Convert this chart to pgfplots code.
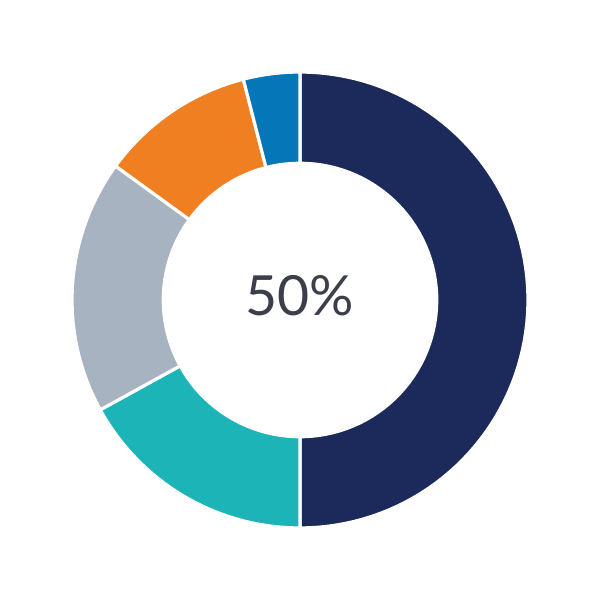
\documentclass[border=0pt]{standalone}
\usepackage{pgfplots}
\pgfplotsset{compat=1.18}
\usepackage{fontspec}
\setmainfont{Lato}
\definecolor{cNavy}{HTML}{1B2A5A}
\definecolor{cTeal}{HTML}{1DB4B8}
\definecolor{cGray}{HTML}{A8B3C2}
\definecolor{cOrange}{HTML}{F07F22}
\definecolor{cBlue}{HTML}{0576B8}
\definecolor{cText}{HTML}{3B3F4A}
\begin{document}
\begin{tikzpicture}
\begin{axis}[
    width=8cm, height=8cm,
    scale only axis,
    axis equal image,
    xmin=-1.316, xmax=1.316,
    ymin=-1.316, ymax=1.316,
    hide axis,
    clip=false,
]
% keep the whole square as the picture
\path (axis cs:-1.316,-1.316) rectangle (axis cs:1.316,1.316);
% slices in percent, clockwise from the top: 50, 17, 18, 11, 4
\addplot[fill=cNavy, draw=white, line width=1.2pt, domain=0:50, samples=80, variable=\t]
    ({sin(3.6*\t)}, {cos(3.6*\t)}) -- (axis cs:0,0) -- cycle;
\addplot[fill=cTeal, draw=white, line width=1.2pt, domain=50:67, samples=40, variable=\t]
    ({sin(3.6*\t)}, {cos(3.6*\t)}) -- (axis cs:0,0) -- cycle;
\addplot[fill=cGray, draw=white, line width=1.2pt, domain=67:85, samples=40, variable=\t]
    ({sin(3.6*\t)}, {cos(3.6*\t)}) -- (axis cs:0,0) -- cycle;
\addplot[fill=cOrange, draw=white, line width=1.2pt, domain=85:96, samples=30, variable=\t]
    ({sin(3.6*\t)}, {cos(3.6*\t)}) -- (axis cs:0,0) -- cycle;
\addplot[fill=cBlue, draw=white, line width=1.2pt, domain=96:100, samples=15, variable=\t]
    ({sin(3.6*\t)}, {cos(3.6*\t)}) -- (axis cs:0,0) -- cycle;
% hole
\addplot[fill=white, draw=white, line width=1.2pt, domain=0:100, samples=120, variable=\t]
    ({0.6*sin(3.6*\t)}, {0.6*cos(3.6*\t)}) -- cycle;
\node[text=cText, font=\fontsize{21}{25}\selectfont] at (axis cs:0,0.02) {50\%};
\end{axis}
\end{tikzpicture}
\end{document}
